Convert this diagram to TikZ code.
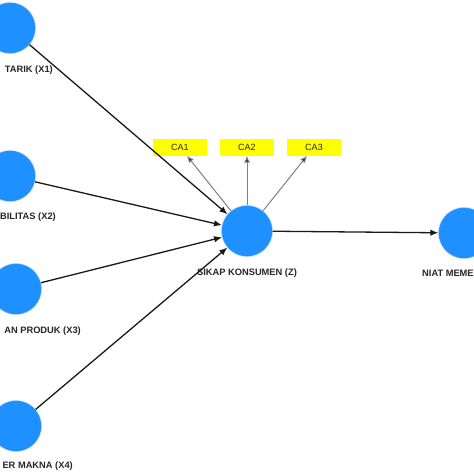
\documentclass[tikz,border=0pt]{standalone}
\usepackage{fontspec}
\setmainfont{Liberation Sans}
\usetikzlibrary{arrows.meta}
\definecolor{lvblue}{RGB}{30,144,255}
\definecolor{ind}{RGB}{255,255,0}
\begin{document}
\begin{tikzpicture}[x = 1pt, y = -1pt,
	every node/.style = {inner sep = 0pt},
	latent/.style = {shape = circle, fill = lvblue, draw = lvblue!40, line width = .4pt, minimum size = 51pt},
	lbl/.style = {font = \fontsize{9.3}{11}\selectfont\bfseries, text = black!85},
	item/.style = {shape = rectangle, fill = ind, minimum width = 54pt, minimum height = 17pt, font = \fontsize{9}{10}\selectfont, text = black!85},
	path/.style = {draw = black!90, line width = 1.3pt, -{Latex[length = 8pt, width = 6.5pt]}},
	load/.style = {draw = black!50, line width = 1pt, -{Latex[length = 7pt, width = 6pt, fill = black!85]}}]
	\useasboundingbox (0, 0) rectangle (474, 474);
    	\node[latent] (X1) at (10, 28) {};
    	\node[latent] (X2) at (10, 176) {};
    	\node[latent] (X3) at (16, 289) {};
    	\node[latent] (X4) at (16, 426) {};
    	\node[latent] (Z) at (247, 231) {};
    	\node[latent] (Y) at (464, 233) {};
	%labels
    	\node[lbl, anchor = east] (LX1) at (53, 70) {TARIK (X1)};
    	\node[lbl, anchor = east] (LX2) at (56, 217) {BILITAS (X2)};
    	\node[lbl, anchor = east] (LX3) at (81, 331) {AN PRODUK (X3)};
    	\node[lbl, anchor = east] (LX4) at (73, 466) {ER MAKNA (X4)};
    	\node[lbl] (LZ) at (247, 273) {SIKAP KONSUMEN (Z)};
    	\node[lbl, anchor = west] (LY) at (422, 273) {NIAT MEME};
    	\node[item] (CA1) at (180, 147) {CA1};
    	\node[item] (CA2) at (247, 147) {CA2};
    	\node[item] (CA3) at (314, 147) {CA3};
	\draw[load] (Z) -- (CA1);
	\draw[load] (Z) -- (CA2);
	\draw[load] (Z) -- (CA3);
	\draw[path] (X1) -- (Z);
	\draw[path] (X2) -- (Z);
	\draw[path] (X3) -- (Z);
	\draw[path] (X4) -- (Z);
	\draw[path] (Z) -- (Y);
    \end{tikzpicture}
\end{document}
